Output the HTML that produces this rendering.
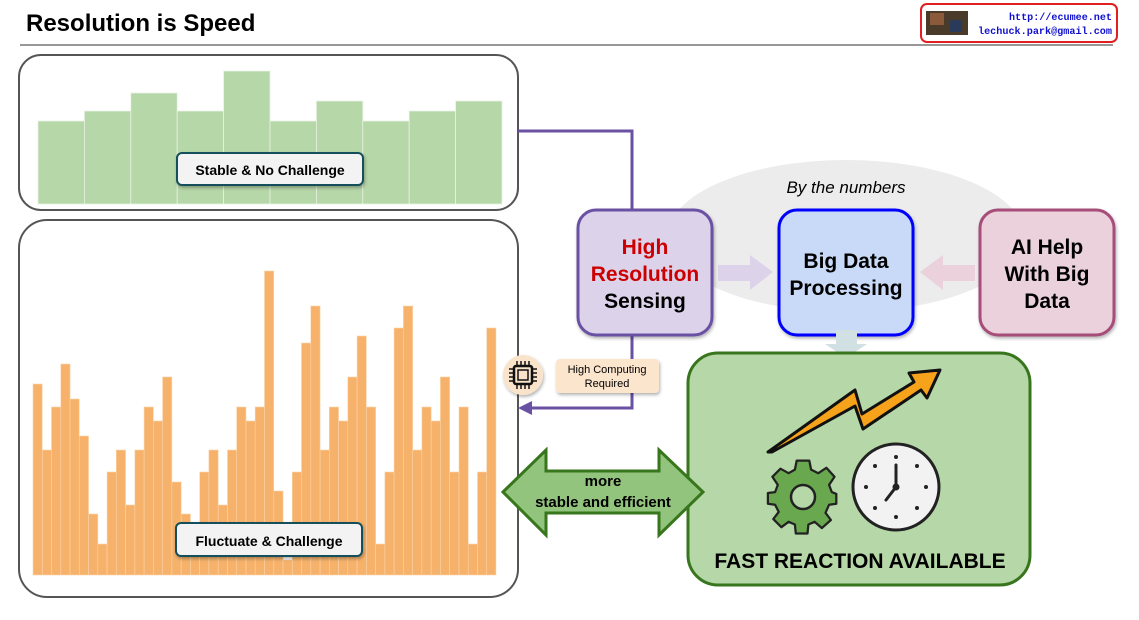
<!DOCTYPE html>
<html><head><meta charset="utf-8"><style>
html,body{margin:0;padding:0;background:#fff;}
svg{display:block;font-family:"Liberation Sans",sans-serif;}
</style></head><body>
<svg width="1139" height="620" viewBox="0 0 1139 620" xmlns="http://www.w3.org/2000/svg">
<defs>
<filter id="sh" x="-10%" y="-10%" width="130%" height="140%"><feDropShadow dx="1" dy="2" stdDeviation="1.5" flood-color="#000" flood-opacity="0.3"/></filter>
</defs>
<text x="26" y="31" font-size="24" font-weight="bold" fill="#000">Resolution is Speed</text>
<line x1="20" y1="45" x2="1113" y2="45" stroke="#777" stroke-width="1.5"/>
<rect x="921" y="4" width="196" height="38" rx="6" fill="#fff" stroke="#e02020" stroke-width="2"/>
<rect x="926" y="11" width="42" height="24" fill="#4a3a2a"/>
<rect x="930" y="13" width="14" height="12" fill="#8a5a3a"/><rect x="950" y="20" width="12" height="12" fill="#2a3a5a"/>
<text x="1112" y="20" font-size="10" font-weight="bold" fill="#1010d0" text-anchor="end" font-family="Liberation Mono,monospace" textLength="103" lengthAdjust="spacingAndGlyphs">http://ecumee.net</text>
<text x="1112" y="34" font-size="10" font-weight="bold" fill="#1010d0" text-anchor="end" font-family="Liberation Mono,monospace" textLength="134" lengthAdjust="spacingAndGlyphs">lechuck.park@gmail.com</text>

<rect x="19" y="55" width="499" height="155" rx="22" fill="#fff" stroke="#555" stroke-width="2"/>
<g fill="#b6d7a8" stroke="#e8f2e3" stroke-width="0.8">
<rect x="38" y="121" width="46.4" height="83"/><rect x="84.4" y="111" width="46.4" height="93"/><rect x="130.8" y="93" width="46.4" height="111"/><rect x="177.2" y="111" width="46.4" height="93"/><rect x="223.6" y="71" width="46.4" height="133"/><rect x="270" y="121" width="46.4" height="83"/><rect x="316.4" y="101" width="46.4" height="103"/><rect x="362.8" y="121" width="46.4" height="83"/><rect x="409.2" y="111" width="46.4" height="93"/><rect x="455.6" y="101" width="46.4" height="103"/>
</g>
<rect x="177" y="153" width="186" height="32" rx="5" fill="#f3f3f3" stroke="#134f5c" stroke-width="2" filter="url(#sh)"/>
<text x="270" y="175" font-size="14" font-weight="bold" text-anchor="middle">Stable &amp; No Challenge</text>

<rect x="19" y="220" width="499" height="377" rx="28" fill="#fff" stroke="#555" stroke-width="2"/>
<g fill="#f6b26b" stroke="#fbd3a8" stroke-width="0.6">
<rect x="33.0" y="384" width="9.26" height="191"/><rect x="42.3" y="450" width="9.26" height="125"/><rect x="51.5" y="407" width="9.26" height="168"/><rect x="60.8" y="364" width="9.26" height="211"/><rect x="70.0" y="399" width="9.26" height="176"/><rect x="79.3" y="436" width="9.26" height="139"/><rect x="88.6" y="514" width="9.26" height="61"/><rect x="97.8" y="544" width="9.26" height="31"/><rect x="107.1" y="472" width="9.26" height="103"/><rect x="116.3" y="450" width="9.26" height="125"/>
<rect x="125.6" y="505" width="9.26" height="70"/><rect x="134.9" y="450" width="9.26" height="125"/><rect x="144.1" y="407" width="9.26" height="168"/><rect x="153.4" y="421" width="9.26" height="154"/><rect x="162.6" y="377" width="9.26" height="198"/><rect x="171.9" y="482" width="9.26" height="93"/><rect x="181.2" y="514" width="9.26" height="61"/><rect x="190.4" y="540" width="9.26" height="35"/><rect x="199.7" y="472" width="9.26" height="103"/><rect x="208.9" y="450" width="9.26" height="125"/>
<rect x="218.2" y="505" width="9.26" height="70"/><rect x="227.5" y="450" width="9.26" height="125"/><rect x="236.7" y="407" width="9.26" height="168"/><rect x="246.0" y="421" width="9.26" height="154"/><rect x="255.2" y="407" width="9.26" height="168"/><rect x="264.5" y="271" width="9.26" height="304"/><rect x="273.8" y="491" width="9.26" height="84"/><rect x="283.0" y="560" width="9.26" height="15"/><rect x="292.3" y="472" width="9.26" height="103"/><rect x="301.5" y="343" width="9.26" height="232"/>
<rect x="310.8" y="306" width="9.26" height="269"/><rect x="320.1" y="450" width="9.26" height="125"/><rect x="329.3" y="407" width="9.26" height="168"/><rect x="338.6" y="421" width="9.26" height="154"/><rect x="347.8" y="377" width="9.26" height="198"/><rect x="357.1" y="336" width="9.26" height="239"/><rect x="366.4" y="407" width="9.26" height="168"/><rect x="375.6" y="544" width="9.26" height="31"/><rect x="384.9" y="472" width="9.26" height="103"/><rect x="394.1" y="328" width="9.26" height="247"/>
<rect x="403.4" y="306" width="9.26" height="269"/><rect x="412.7" y="450" width="9.26" height="125"/><rect x="421.9" y="407" width="9.26" height="168"/><rect x="431.2" y="421" width="9.26" height="154"/><rect x="440.4" y="377" width="9.26" height="198"/><rect x="449.7" y="472" width="9.26" height="103"/><rect x="459.0" y="407" width="9.26" height="168"/><rect x="468.2" y="544" width="9.26" height="31"/><rect x="477.5" y="472" width="9.26" height="103"/><rect x="486.7" y="328" width="9.26" height="247"/>
</g>
<rect x="176" y="523" width="186" height="33" rx="5" fill="#f3f3f3" stroke="#134f5c" stroke-width="2" filter="url(#sh)"/>
<text x="269" y="546" font-size="14" font-weight="bold" text-anchor="middle">Fluctuate &amp; Challenge</text>

<polyline points="518,131 632,131 632,212" fill="none" stroke="#6a51a3" stroke-width="3"/>
<polyline points="632,335 632,408 530,408" fill="none" stroke="#6a51a3" stroke-width="3"/>
<polygon points="518,408 532,401 532,415" fill="#6a51a3"/>

<ellipse cx="846" cy="236" rx="178" ry="76" fill="#ececec"/>
<text x="846" y="193" font-size="17" font-style="italic" text-anchor="middle" fill="#000">By the numbers</text>

<rect x="578" y="210" width="134" height="125" rx="18" fill="#dcd3ea" stroke="#6a51a3" stroke-width="3" filter="url(#sh)"/>
<text x="645" y="254" font-size="21" font-weight="bold" text-anchor="middle" fill="#cc0000">High</text>
<text x="645" y="281" font-size="21" font-weight="bold" text-anchor="middle" fill="#cc0000">Resolution</text>
<text x="645" y="308" font-size="21" font-weight="bold" text-anchor="middle" fill="#000">Sensing</text>

<rect x="779" y="210" width="134" height="125" rx="18" fill="#c9daf8" stroke="#0000ff" stroke-width="3" filter="url(#sh)"/>
<text x="846" y="268" font-size="21" font-weight="bold" text-anchor="middle">Big Data</text>
<text x="846" y="295" font-size="21" font-weight="bold" text-anchor="middle">Processing</text>

<rect x="980" y="210" width="134" height="125" rx="18" fill="#ead1dc" stroke="#a64d79" stroke-width="3" filter="url(#sh)"/>
<text x="1047" y="254" font-size="21" font-weight="bold" text-anchor="middle">AI Help</text>
<text x="1047" y="281" font-size="21" font-weight="bold" text-anchor="middle">With Big</text>
<text x="1047" y="308" font-size="21" font-weight="bold" text-anchor="middle">Data</text>

<polygon points="718,265 750,265 750,255 773,272 750,290 750,281 718,281" fill="#dcd3ea"/>
<polygon points="975,265 943,265 943,255 920,272 943,290 943,281 975,281" fill="#ead1dc"/>
<polygon points="836,330 857,330 857,344 867,344 846,358 825,344 836,344" fill="#d0e0e3"/>

<circle cx="523" cy="375" r="20" fill="#f9e3cb" filter="url(#sh)"/>
<rect x="514" y="366" width="18" height="18" rx="2" fill="none" stroke="#111" stroke-width="2.5"/>
<rect x="518" y="370" width="10" height="10" fill="none" stroke="#111" stroke-width="1.5"/>
<g stroke="#111" stroke-width="1.5">
<line x1="517" y1="361" x2="517" y2="366"/><line x1="521" y1="361" x2="521" y2="366"/><line x1="525" y1="361" x2="525" y2="366"/><line x1="529" y1="361" x2="529" y2="366"/>
<line x1="517" y1="384" x2="517" y2="389"/><line x1="521" y1="384" x2="521" y2="389"/><line x1="525" y1="384" x2="525" y2="389"/><line x1="529" y1="384" x2="529" y2="389"/>
<line x1="509" y1="369" x2="514" y2="369"/><line x1="509" y1="373" x2="514" y2="373"/><line x1="509" y1="377" x2="514" y2="377"/><line x1="509" y1="381" x2="514" y2="381"/>
<line x1="532" y1="369" x2="537" y2="369"/><line x1="532" y1="373" x2="537" y2="373"/><line x1="532" y1="377" x2="537" y2="377"/><line x1="532" y1="381" x2="537" y2="381"/>
</g>
<rect x="556" y="359" width="103" height="34" rx="4" fill="#fce5cd" filter="url(#sh)"/>
<text x="607" y="373" font-size="11" text-anchor="middle">High Computing</text>
<text x="607" y="387" font-size="11" text-anchor="middle">Required</text>

<rect x="688" y="353" width="342" height="232" rx="30" fill="#b6d7a8" stroke="#38761d" stroke-width="3"/>
<polygon points="768,452 855,390 862,414 914,382 909,373 940,370 927,398 921,390 863,429 855,406 772,452" fill="#f6a21a" stroke="#111" stroke-width="3" stroke-linejoin="round"/>
<g transform="translate(803,497)">
<g fill="#6aa84f" stroke="#222" stroke-width="2.5" stroke-linejoin="round">
<path d="M-7,-36 L7,-36 L9,-26 L17,-22 L26,-28 L35,-18 L29,-9 L32,-1 L37,1 L37,12 L29,13 L25,22 L31,30 L21,39 L13,32 L6,35 L5,45 L-8,45 L-9,35 L-16,32 L-24,38 L-33,29 L-27,21 L-31,13 L-39,12 L-39,0 L-31,-1 L-28,-9 L-34,-18 L-25,-27 L-16,-22 L-9,-26 Z" transform="translate(0,-4) scale(0.9)"/>
</g>
<circle cx="0" cy="0" r="12" fill="#b6d7a8" stroke="#222" stroke-width="2.5"/>
</g>
<circle cx="896" cy="487" r="43" fill="#f2f2f2" stroke="#222" stroke-width="3"/>
<g fill="#222">
<circle cx="896" cy="457" r="2"/><circle cx="896" cy="517" r="2"/><circle cx="866" cy="487" r="2"/><circle cx="926" cy="487" r="2"/>
<circle cx="875" cy="466" r="2"/><circle cx="917" cy="466" r="2"/><circle cx="875" cy="508" r="2"/><circle cx="917" cy="508" r="2"/>
<circle cx="896" cy="487" r="3.5"/>
</g>
<line x1="896" y1="487" x2="896" y2="465" stroke="#222" stroke-width="3" stroke-linecap="round"/>
<line x1="896" y1="487" x2="886" y2="500" stroke="#222" stroke-width="3" stroke-linecap="round"/>
<text x="860" y="568" font-size="21" font-weight="bold" text-anchor="middle">FAST REACTION AVAILABLE</text>

<polygon points="503,492 546,450 546,471 659,471 659,450 703,492 659,535 659,513 546,513 546,535" fill="#93c47d" stroke="#38761d" stroke-width="3"/>
<text x="603" y="486" font-size="15" font-weight="bold" text-anchor="middle">more</text>
<text x="603" y="507" font-size="15" font-weight="bold" text-anchor="middle">stable and efficient</text>
</svg>
</body></html>
